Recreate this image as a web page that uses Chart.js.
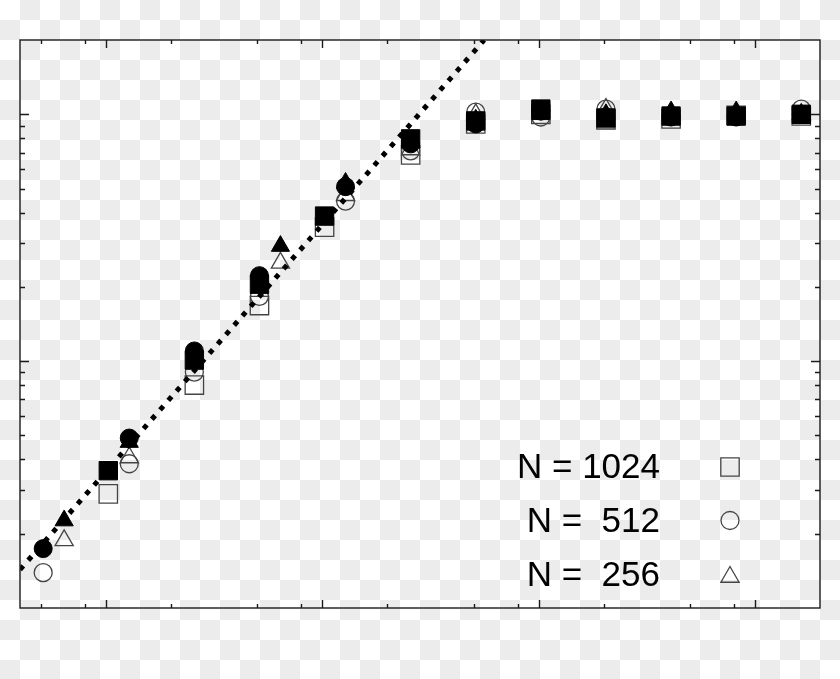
<!DOCTYPE html>
<html>
<head>
<meta charset="utf-8">
<title>N scaling</title>
<script src="https://cdn.jsdelivr.net/npm/chart.js@4.4.1/dist/chart.umd.min.js"></script>
<style>
    html, body { margin: 0; padding: 0; }
    body {
        width: 840px;
        height: 679px;
        overflow: hidden;
        background: repeating-conic-gradient(#ececec 0 25%, #ffffff 0 50%) 0 0 / 40px 40px;
    }
    #wrap { position: relative; width: 840px; height: 679px; }
</style>
</head>
<body>
<div id="wrap"><canvas id="chart" width="840" height="679"></canvas></div>
<script>
// values (both axes logarithmic, no tick labels shown)
const xSquares = [1.024, 2.56, 5.12, 10.24, 25.6, 51.2, 102.4, 204.8, 409.6, 819.2, 1638.4];
const openSquares = [0.029, 0.080, 0.168, 0.349, 0.685, 0.914, 1.0, 0.95, 0.957, 0.99, 0.985];
const filledSquares = [0.036, 0.101, 0.205, 0.387, 0.795, 0.94, 1.05, 0.966, 0.984, 0.984, 1.0];

const xCircles = [0.512, 1.28, 2.56, 5.12, 12.8, 25.6, 51.2, 102.4, 204.8, 409.6, 819.2, 1638.4];
const openCircles = [0.0139, 0.0384, 0.0903, 0.183, 0.445, 0.711, 1.02, 0.975, 1.05, 0.985, 0.99, 1.05];
const filledCircles = [0.0174, 0.0488, 0.110, 0.222, 0.509, 0.759, 0.914, 1.03, 0.975, 0.975, 0.975, 1.0];

const xTriangles = [0.64, 1.28, 6.4, 12.8, 25.6, 51.2, 102.4, 204.8, 409.6, 819.2, 1638.4];
const openTriangles = [0.0188, 0.0407, 0.25, 0.47, 0.72, 1.0, 1.01, 1.05, 1.0, 1.0, 1.0];
const filledTriangles = [0.0226, 0.047, 0.2925, 0.527, 0.77, 0.95, 1.0, 1.0, 1.026, 1.026, 1.0];

// dotted guide line (slope 1 in log-log)
const lineX = [0.4, 56];
const lineY = [0.0143, 2.0];

const legendLabels = ['N = 1024', 'N =  512', 'N =  256'];

const xMajorTicks = [1, 10, 100, 1000];
const xMinorTicks = [0.5, 0.8, 2, 5, 8, 20, 50, 80, 200, 500, 800];
const yMajorTicks = [0.1, 1];
const yMinorTicks = [0.02, 0.03, 0.04, 0.05, 0.06, 0.07, 0.08, 0.09, 0.2, 0.3, 0.4, 0.5, 0.6, 0.7, 0.8, 0.9];

document.addEventListener('DOMContentLoaded', function() {

    function toPoints(xs, ys) {
        return xs.map((x, i) => ({ x: x, y: ys[i] }));
    }

    function openSet(label, xs, ys, style, radius) {
        return {
            label: label,
            data: toPoints(xs, ys),
            pointStyle: style,
            pointRadius: radius,
            backgroundColor: 'rgba(0,0,0,0)',
            borderColor: '#444',
            borderWidth: 1.3,
            showLine: false
        };
    }

    function filledSet(label, xs, ys, style, radius) {
        return {
            label: label,
            data: toPoints(xs, ys),
            pointStyle: style,
            pointRadius: radius,
            backgroundColor: '#000',
            borderColor: '#000',
            borderWidth: 1,
            showLine: false
        };
    }

    function drawMarker(ctx, style, x, y, r) {
        ctx.beginPath();
        if (style === 'rect') {
            const s = Math.SQRT1_2 * r;
            ctx.rect(x - s, y - s, 2 * s, 2 * s);
        } else if (style === 'circle') {
            ctx.arc(x, y, r, 0, Math.PI * 2);
        } else {
            ctx.moveTo(x, y - r);
            ctx.lineTo(x + 0.866 * r, y + 0.5 * r);
            ctx.lineTo(x - 0.866 * r, y + 0.5 * r);
            ctx.closePath();
        }
        ctx.stroke();
    }

    // frame with inward ticks on all four sides, plus the text legend
    const framePlugin = {
        id: 'frame',
        afterDraw(chart) {
            const ctx = chart.ctx;
            const a = chart.chartArea;
            const xs = chart.scales.x;
            const ys = chart.scales.y;
            ctx.save();
            ctx.strokeStyle = '#1a1a1a';
            ctx.lineWidth = 1.4;
            ctx.strokeRect(a.left, a.top, a.right - a.left, a.bottom - a.top);

            ctx.beginPath();
            const xTick = (v, len) => {
                const px = Math.round(xs.getPixelForValue(v)) + 0.5;
                ctx.moveTo(px, a.bottom); ctx.lineTo(px, a.bottom - len);
                ctx.moveTo(px, a.top); ctx.lineTo(px, a.top + len);
            };
            const yTick = (v, len) => {
                const py = Math.round(ys.getPixelForValue(v)) + 0.5;
                ctx.moveTo(a.left, py); ctx.lineTo(a.left + len, py);
                ctx.moveTo(a.right, py); ctx.lineTo(a.right - len, py);
            };
            xMajorTicks.forEach(v => xTick(v, 8));
            xMinorTicks.forEach(v => xTick(v, 4));
            yMajorTicks.forEach(v => yTick(v, 9));
            yMinorTicks.forEach(v => yTick(v, 5));
            ctx.stroke();

            // legend: text right aligned, open marker to its right
            const styles = ['rect', 'circle', 'triangle'];
            const radii = [13, 9, 10.5];
            const baselines = [478, 531.5, 586];
            ctx.font = '35px "Liberation Sans", Arial, sans-serif';
            ctx.fillStyle = '#000';
            ctx.textAlign = 'right';
            ctx.textBaseline = 'alphabetic';
            ctx.strokeStyle = '#444';
            ctx.lineWidth = 1.3;
            legendLabels.forEach((t, i) => {
                ctx.fillText(t, 660, baselines[i]);
                drawMarker(ctx, styles[i], 730, baselines[i] - 11 + (i === 2 ? 2 : 0), radii[i]);
            });
            ctx.restore();
        }
    };

    const ctx = document.getElementById('chart').getContext('2d');
    new Chart(ctx, {
        type: 'scatter',
        data: {
            datasets: [
                {
                    label: 'guide',
                    type: 'line',
                    data: toPoints(lineX, lineY),
                    borderColor: '#000',
                    borderWidth: 5,
                    borderDash: [5, 7.5],
                    borderCapStyle: 'butt',
                    pointRadius: 0,
                    fill: false
                },
                filledSet('1024 filled', xSquares, filledSquares, 'rect', 13),
                filledSet('512 filled', xCircles, filledCircles, 'circle', 9),
                filledSet('256 filled', xTriangles, filledTriangles, 'triangle', 10.5),
                openSet(legendLabels[0], xSquares, openSquares, 'rect', 13),
                openSet(legendLabels[1], xCircles, openCircles, 'circle', 9),
                openSet(legendLabels[2], xTriangles, openTriangles, 'triangle', 10.5)
            ]
        },
        options: {
            responsive: false,
            animation: false,
            layout: { padding: { left: 20, right: 20, top: 40, bottom: 71 } },
            scales: {
                x: { type: 'logarithmic', min: 0.4, max: 2000, display: false },
                y: { type: 'logarithmic', min: 0.01, max: 2, display: false }
            },
            plugins: {
                legend: { display: false },
                tooltip: { enabled: false }
            }
        },
        plugins: [framePlugin]
    });
});
</script>
</body>
</html>
